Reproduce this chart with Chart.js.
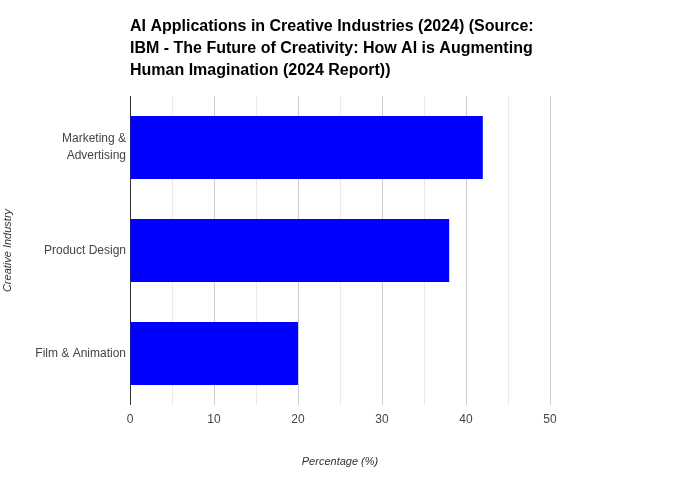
<!DOCTYPE html>
<html lang="en">
<head>
    <meta charset="utf-8" />
    <title>AI Applications in Creative Industries</title>
    <script src="https://cdn.jsdelivr.net/npm/chart.js"></script>
    <style>
        html, body { margin: 0; padding: 0; background: #fff; }
        #wrap { width: 680px; height: 500px; }
    </style>
</head>
<body>
    <div id="wrap"><canvas id="IndustryChart" width="680" height="500"></canvas></div>
    <script>
        var industries = [['Marketing &', 'Advertising'], 'Product Design', 'Film & Animation'];
        var percentages = [42, 38, 20];
        var titleLines = [
            'AI Applications in Creative Industries (2024) (Source:',
            'IBM - The Future of Creativity: How AI is Augmenting',
            'Human Imagination (2024 Report))'
        ];
        var xTitle = 'Percentage (%)';
        var yTitle = 'Creative Industry';

        var fontFamily = '"Liberation Sans", Arial, sans-serif';

        // title drawn left-aligned with the plot area
        var titlePlugin = {
            id: 'leftTitle',
            afterDraw: function (chart) {
                var ctx = chart.ctx;
                ctx.save();
                ctx.fillStyle = '#000';
                ctx.font = 'bold 16px ' + fontFamily;
                ctx.textBaseline = 'middle';
                ctx.textAlign = 'left';
                titleLines.forEach(function (line, i) {
                    ctx.fillText(line, chart.chartArea.left, 27 + i * 22);
                });
                ctx.restore();
            }
        };

        function DrawChart() {
            const ctx = document.getElementById('IndustryChart');
            new Chart(ctx, {
                type: 'bar',
                data: {
                    labels: industries,
                    datasets: [{
                        data: percentages,
                        backgroundColor: '#0000ff',
                        borderWidth: 0,
                        categoryPercentage: 1,
                        barPercentage: 0.61
                    }]
                },
                options: {
                    indexAxis: 'y',
                    responsive: false,
                    animation: false,
                    layout: { padding: { top: 96, right: 130, left: 0, bottom: 0 } },
                    plugins: {
                        legend: { display: false },
                        tooltip: { enabled: false }
                    },
                    scales: {
                        x: {
                            min: 0,
                            max: 50,
                            afterFit: function (s) { s.height = 95; },
                            border: { display: false },
                            grid: {
                                drawTicks: false,
                                color: function (c) {
                                    if (c.tick.value === 0) return '#333';
                                    return c.tick.value % 10 === 0 ? '#cccccc' : '#ebebeb';
                                }
                            },
                            ticks: {
                                stepSize: 5,
                                padding: 7,
                                color: '#444',
                                font: { family: fontFamily, size: 12 },
                                callback: function (v) { return v % 10 === 0 ? v : ''; }
                            },
                            title: {
                                display: true,
                                text: xTitle,
                                color: '#333',
                                font: { family: fontFamily, size: 11, style: 'italic' },
                                padding: { top: 0, bottom: 31 }
                            }
                        },
                        y: {
                            afterFit: function (s) { s.width = 130; },
                            border: { display: false },
                            grid: { display: false, drawTicks: false },
                            ticks: {
                                padding: 4,
                                color: '#444',
                                font: { family: fontFamily, size: 12, lineHeight: 1.4 }
                            },
                            title: {
                                display: true,
                                text: yTitle,
                                color: '#333',
                                font: { family: fontFamily, size: 11, style: 'italic' },
                                padding: { top: 1, bottom: 0 }
                            }
                        }
                    }
                },
                plugins: [titlePlugin]
            });
        }

        DrawChart();
    </script>
</body>
</html>
